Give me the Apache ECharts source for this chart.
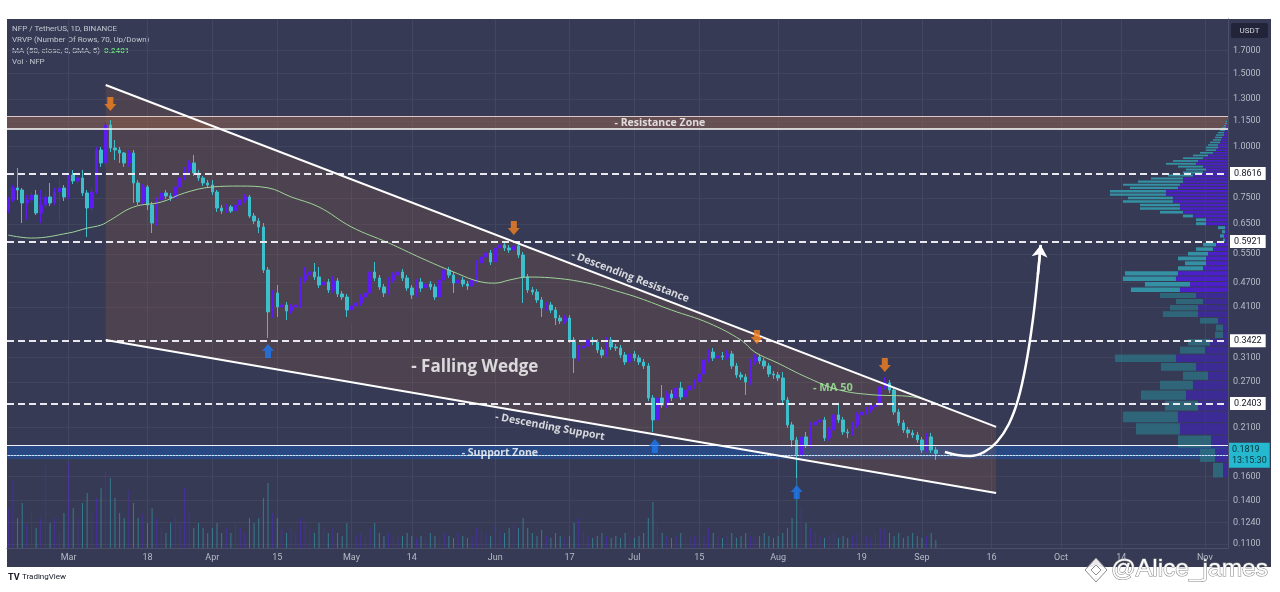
<!DOCTYPE html>
<html><head><meta charset="utf-8">
<script src="https://cdn.jsdelivr.net/npm/echarts@6/dist/echarts.min.js"></script>
<style>
html,body{margin:0;padding:0;background:#ffffff;}
#bg{position:absolute;left:7px;top:19px;width:1264px;height:548px;background:#363a54;}
#c{position:absolute;left:0;top:0;width:1280px;height:592px;}
</style>
</head><body><div id="bg"></div><div id="c"></div>
<script>
// ---------- DATA ----------
const candleStart = '2024-02-17';
const opens = [
0.7023,0.7424,0.7935,0.7847,0.7302,0.7424,0.7632,0.6907,0.7221,0.7548,
0.7302,0.7760,0.7935,0.7548,0.8529,0.8249,0.8388,0.7718,0.7102,0.7760,
0.9798,0.9116,1.1256,0.9908,0.9798,0.9636,0.9116,0.9636,0.8158,0.7342,
0.7979,0.7221,0.6534,0.7424,0.7718,0.7590,0.7506,0.7979,0.8388,0.8769,
0.9116,0.8624,0.8388,0.8158,0.8068,0.7760,0.7102,0.6984,0.7141,0.6984,
0.7221,0.7424,0.7548,0.6793,0.6607,0.6391,0.5034,0.3988,0.4431,0.4100,
0.4145,0.4010,0.4100,0.4145,0.4762,0.4896,0.4978,0.4842,0.4632,0.4709,
0.4505,0.4736,0.4406,0.4333,0.4032,0.4123,0.4192,0.4333,0.4431,0.4978,
0.4816,0.4581,0.4431,0.4762,0.4896,0.4978,0.4816,0.4555,0.4382,0.4709,
0.4555,0.4658,0.4581,0.4333,0.4762,0.5034,0.4896,0.4683,0.4762,0.4658,
0.4606,0.4762,0.5233,0.5411,0.5532,0.5262,0.5688,0.5783,0.5688,0.5625,
0.5751,0.5471,0.4842,0.4505,0.4455,0.4262,0.4077,0.4145,0.4032,0.3857,
0.3793,0.3857,0.3413,0.3089,0.3265,0.3301,0.3413,0.3375,0.3229,0.3141,
0.3413,0.3283,0.3265,0.3141,0.3021,0.3158,0.3089,0.3021,0.2955,0.2474,
0.2190,0.2474,0.2380,0.2529,0.2474,0.2615,0.2488,0.2586,0.2645,0.2704,
0.2827,0.3055,0.3193,0.3089,0.3123,0.3106,0.3158,0.2955,0.2811,0.2780,
0.2704,0.3021,0.3106,0.3038,0.2955,0.2827,0.2811,0.2765,0.2447,0.2130,
0.1960,0.1803,0.1993,0.1906,0.2130,0.2166,0.2190,0.1982,0.2072,0.2252,
0.2190,0.2049,0.2038,0.2130,0.2252,0.2289,0.2315,0.2354,0.2380,0.2630,
0.2689,0.2586,0.2289,0.2154,0.2072,0.2038,0.2015,0.1960,0.1854,0.1993,
0.1854];
const closes = [
0.7424,0.7935,0.7847,0.7302,0.7424,0.7632,0.6907,0.7221,0.7548,0.7302,
0.7760,0.7935,0.7548,0.8529,0.8249,0.8388,0.7718,0.7102,0.7760,0.9798,
0.9116,1.1256,0.9908,0.9798,0.9636,0.9116,0.9636,0.8158,0.7342,0.7979,
0.7221,0.6534,0.7424,0.7718,0.7590,0.7506,0.7979,0.8388,0.8769,0.9116,
0.8624,0.8388,0.8158,0.8068,0.7760,0.7102,0.6984,0.7141,0.6984,0.7221,
0.7424,0.7548,0.6793,0.6607,0.6391,0.5034,0.3988,0.4431,0.4100,0.4145,
0.4010,0.4100,0.4145,0.4762,0.4896,0.4978,0.4842,0.4632,0.4709,0.4505,
0.4736,0.4406,0.4333,0.4032,0.4123,0.4192,0.4333,0.4431,0.4978,0.4816,
0.4581,0.4431,0.4762,0.4896,0.4978,0.4816,0.4555,0.4382,0.4709,0.4555,
0.4658,0.4581,0.4333,0.4762,0.5034,0.4896,0.4683,0.4762,0.4658,0.4606,
0.4762,0.5233,0.5411,0.5532,0.5262,0.5688,0.5783,0.5688,0.5625,0.5751,
0.5471,0.4842,0.4505,0.4455,0.4262,0.4077,0.4145,0.4032,0.3857,0.3793,
0.3857,0.3413,0.3089,0.3265,0.3301,0.3413,0.3375,0.3229,0.3141,0.3413,
0.3283,0.3265,0.3141,0.3021,0.3158,0.3089,0.3021,0.2955,0.2474,0.2190,
0.2474,0.2380,0.2529,0.2474,0.2615,0.2488,0.2586,0.2645,0.2704,0.2827,
0.3055,0.3193,0.3089,0.3123,0.3106,0.3158,0.2955,0.2811,0.2780,0.2704,
0.3021,0.3106,0.3038,0.2955,0.2827,0.2811,0.2765,0.2447,0.2130,0.1960,
0.1803,0.1993,0.1906,0.2130,0.2166,0.2190,0.1982,0.2072,0.2252,0.2190,
0.2049,0.2038,0.2130,0.2252,0.2289,0.2315,0.2354,0.2380,0.2630,0.2689,
0.2586,0.2289,0.2154,0.2072,0.2038,0.2015,0.1960,0.1854,0.1993,0.1854,
0.1819];
const highs = [
0.7548,0.8068,0.8867,0.7935,0.7632,0.7760,0.7847,0.7847,0.7675,0.8158,
0.7935,0.8435,0.8068,0.8624,0.8769,0.8482,0.8769,0.7847,0.7935,0.9963,
0.9963,1.1445,1.1573,1.0357,0.9963,0.9690,0.9798,0.9798,0.8295,0.8113,
0.8068,0.7342,0.7548,0.7847,0.7847,0.7718,0.8113,0.8482,0.8916,0.9269,
0.9530,0.8769,0.8482,0.8295,0.8295,0.7847,0.7221,0.7261,0.7221,0.7342,
0.7548,0.7675,0.7632,0.6907,0.6718,0.6534,0.5118,0.4505,0.4632,0.4215,
0.4215,0.4168,0.4215,0.4842,0.5118,0.5062,0.5233,0.5118,0.4816,0.4789,
0.4869,0.4816,0.4480,0.4406,0.4192,0.4262,0.4406,0.4505,0.5062,0.5262,
0.4896,0.4658,0.4842,0.4978,0.5090,0.5062,0.4896,0.4632,0.4789,0.4816,
0.4736,0.4736,0.4658,0.4842,0.5147,0.5118,0.4978,0.4842,0.4842,0.4736,
0.4842,0.5321,0.5532,0.5625,0.5625,0.5783,0.5880,0.5848,0.5783,0.5848,
0.5816,0.5563,0.4924,0.4581,0.4530,0.4333,0.4215,0.4215,0.4100,0.3922,
0.3922,0.3922,0.3471,0.3320,0.3357,0.3549,0.3471,0.3432,0.3283,0.3471,
0.3471,0.3338,0.3320,0.3193,0.3211,0.3211,0.3141,0.3072,0.3005,0.2515,
0.2515,0.2659,0.2572,0.2586,0.2659,0.2704,0.2630,0.2689,0.2749,0.2874,
0.3106,0.3247,0.3265,0.3193,0.3193,0.3229,0.3211,0.3005,0.2858,0.2827,
0.3072,0.3158,0.3158,0.3089,0.3005,0.2874,0.2858,0.2858,0.2488,0.2166,
0.1993,0.2027,0.2049,0.2166,0.2215,0.2239,0.2227,0.2107,0.2289,0.2407,
0.2227,0.2084,0.2166,0.2289,0.2328,0.2354,0.2393,0.2420,0.2674,0.2780,
0.2734,0.2630,0.2328,0.2190,0.2107,0.2072,0.2049,0.1993,0.2038,0.2038,
0.1885];
const lows = [
0.6907,0.7342,0.7424,0.6534,0.6644,0.7302,0.6831,0.6534,0.7102,0.7181,
0.7221,0.6534,0.7383,0.7465,0.8113,0.8113,0.7590,0.6046,0.6984,0.7675,
0.8916,0.8916,0.9690,0.9269,0.9116,0.8916,0.8916,0.7302,0.7221,0.7221,
0.7023,0.6181,0.6427,0.7302,0.7465,0.7383,0.7424,0.7847,0.8295,0.8624,
0.8482,0.8249,0.8024,0.7935,0.7632,0.6946,0.6869,0.6907,0.6907,0.6869,
0.7141,0.7302,0.6718,0.6498,0.6181,0.4951,0.3451,0.3857,0.3878,0.4032,
0.3814,0.3944,0.3751,0.4077,0.4683,0.4816,0.4762,0.4555,0.4555,0.4431,
0.4431,0.4333,0.4262,0.3878,0.3751,0.4054,0.4123,0.4262,0.4358,0.4736,
0.4505,0.4333,0.4382,0.4683,0.4816,0.4736,0.4480,0.4286,0.4333,0.4455,
0.4455,0.4505,0.4262,0.4286,0.4683,0.4816,0.4431,0.4606,0.4581,0.4505,
0.4530,0.4683,0.5147,0.5321,0.5175,0.5118,0.5594,0.5594,0.5532,0.5563,
0.5381,0.4192,0.4431,0.4382,0.4192,0.3878,0.4010,0.3965,0.3710,0.3730,
0.3730,0.3357,0.2842,0.3038,0.3211,0.3247,0.3320,0.3176,0.3089,0.3106,
0.3229,0.3211,0.3089,0.2971,0.2971,0.3038,0.2971,0.2906,0.2433,0.2049,
0.2154,0.2341,0.2341,0.2433,0.2433,0.2447,0.2447,0.2543,0.2601,0.2659,
0.2780,0.3005,0.3038,0.3038,0.3055,0.3055,0.2906,0.2765,0.2734,0.2515,
0.2659,0.2971,0.2988,0.2906,0.2780,0.2749,0.2719,0.2407,0.2095,0.1885,
0.1587,0.1773,0.1875,0.1875,0.2095,0.2130,0.1949,0.1949,0.2038,0.2154,
0.2015,0.1982,0.2004,0.2095,0.2215,0.2252,0.2277,0.2315,0.2341,0.2586,
0.2543,0.2252,0.2119,0.2038,0.1982,0.1982,0.1928,0.1823,0.1833,0.1823,
0.1754];
const volumes = [
40,68,30,45,25,35,20,30,83,25,30,15,35,
86,40,30,45,55,35,50,60,76,70,50,35,30,
58,45,30,35,25,40,30,20,15,25,30,25,60,35,20,
25,20,15,20,25,15,20,15,25,20,15,30,25,30,50,
65,
35,30,20,15,20,15,30,25,20,15,25,20,15,20,
15,12,25,15,12,15,12,20,25,15,12,15,12,10,12,15,12,10,12,10,15,12,10,15,12,10,15,12,10,12,
20,18,15,12,25,18,15,20,25,20,
30,20,15,12,18,12,10,15,12,10,12,25,30,15,12,10,12,15,12,10,12,10,15,12,10,12,15,
30,46,25,
15,12,10,12,15,12,10,12,15,12,20,15,12,10,12,15,10,12,15,12,10,12,15,12,10,12,15,20,30,
90,
40,25,20,
15,12,10,12,15,10,12,10,12,15,10,12,10,15,20,18,15,12,15,10,12,15,12,10,12,15,8];

// moving average (MA 50)
const maDates = ['2024-02-17','2024-02-22','2024-03-01','2024-03-05','2024-03-08','2024-03-10','2024-03-15','2024-03-21','2024-03-26','2024-04-01','2024-04-07','2024-04-13','2024-04-18','2024-04-24','2024-05-01','2024-05-09','2024-05-16','2024-05-23','2024-05-29','2024-06-01','2024-06-04','2024-06-08','2024-06-13','2024-06-21','2024-06-28','2024-07-02','2024-07-09','2024-07-17','2024-07-24','2024-07-27','2024-08-01','2024-08-07','2024-08-14','2024-08-21','2024-08-30','2024-09-04'];
const maValues = [0.611,0.601,0.618,0.635,0.646,0.664,0.714,0.734,0.772,0.798,0.802,0.794,0.755,0.714,0.639,0.585,0.538,0.498,0.471,0.468,0.476,0.484,0.482,0.468,0.445,0.431,0.403,0.375,0.341,0.319,0.300,0.278,0.259,0.252,0.249,0.2401];

// visible-range volume profile, 70 rows (up / down)
const vpMin = 0.1587, vpMax = 1.1573, vpRows = 70;
const vpUp = [5,13,17,48,50,30,42,35,20,32,52,23,18,5,5,10,30,30,25,32,48,38,52,50,25,22,22,20,15,12,3,4,3,3,22,22,35,45,48,48,55,55,62,62,50,48,45,45,35,25,22,25,32,30,25,20,15,12,10,10,8,7,6,4,4,3,2,2,1,1];
const vpDown = [10,15,33,44,55,33,45,33,25,35,61,25,22,8,7,18,35,28,27,36,49,45,53,53,25,21,28,20,17,13,2,4,3,7,10,10,10,23,40,40,50,45,56,56,48,57,45,32,25,20,20,25,30,25,20,15,13,10,12,10,10,8,7,8,6,5,4,2,2,1];

// horizontal levels
const hLevels = [0.8616, 0.5921, 0.3422, 0.2403];
const resistanceZone = [1.0990, 1.1832];
const supportZone = [0.1764, 0.1896];
const lastPrice = 0.1819, lastTime = '13:15:30';

// wedge lines
const wedgeRes = [['2024-03-09', 1.405], ['2024-09-17', 0.2107]];
const wedgeSup = [['2024-03-09', 0.3413], ['2024-09-17', 0.1460]];

// markers
const orangeArrows = [['2024-03-10', 1.2646], ['2024-06-05', 0.6358], ['2024-07-27 10:00', 0.3471], ['2024-08-24', 0.2972]];
const blueArrows = [['2024-04-13', 0.3211], ['2024-07-05 10:00', 0.1896], ['2024-08-05', 0.1468]];
const curvePts = [['2024-09-05 23:00',0.1833],['2024-09-08 13:00',0.1803],['2024-09-11 08:00',0.1793],['2024-09-14 09:00',0.1833],['2024-09-17 04:00',0.1938],['2024-09-19 18:00',0.2142],['2024-09-21 17:00',0.2447],['2024-09-23 10:00',0.2971],['2024-09-24 22:00',0.3814],['2024-09-26 00:00',0.4896],['2024-09-26 15:00',0.5783]];

// text notes: content + anchor
const noteTexts = ['- Resistance Zone','- Support Zone','- Falling Wedge','- Descending Resistance','- Descending Support','- MA 50'];
const noteAnchors = [['2024-07-06 12:00',1.14],['2024-06-02 00:00',0.1826],['2024-05-27 14:00',0.2939],['2024-06-30 02:00',0.4842],['2024-06-12 19:00',0.2107],['2024-08-12 19:00',0.2615]];

// axis ticks
const priceTicks = [1.7,1.5,1.3,1.15,1.0,0.75,0.65,0.55,0.47,0.41,0.31,0.27,0.21,0.16,0.14,0.124,0.11];
const timeTicks = ['2024-03-01','2024-03-18','2024-04-01','2024-04-15','2024-05-01','2024-05-14','2024-06-01','2024-06-17','2024-07-01','2024-07-15','2024-08-01','2024-08-19','2024-09-01','2024-09-16','2024-10-01','2024-10-14','2024-11-01'];
const timeLabels = ['Mar','18','Apr','15','May','14','Jun','17','Jul','15','Aug','19','Sep','16','Oct','14','Nov'];

// ---------- BUILD ----------
const DAY = 86400000;
const T = s => { const parts = s.split(' '); const [Y,M,D] = parts[0].split('-').map(Number); const [h,m] = (parts[1]||'00:00').split(':').map(Number); return Date.UTC(Y,M-1,D,h,m); };
const t0 = T(candleStart);
const dates = opens.map((_, i) => t0 + i * DAY);
const candleData = opens.map((o, i) => [dates[i], o, closes[i], lows[i], highs[i]]);
const UP = '#5e1cf2', DOWN = '#3fbfcc';
const volData = volumes.map((v, i) => ({ value: [dates[i], v], itemStyle: { color: closes[i] >= opens[i] ? 'rgba(88,40,230,0.5)' : 'rgba(55,175,190,0.55)' } }));
const xMin = T('2024-02-16 17:15'), xMax = T('2024-11-06 00:00');
const tickTimes = timeTicks.map(T);
const labelFor = v => { for (let i = 0; i < tickTimes.length; i++) { if (Math.abs(tickTimes[i] - v) < 3600000) return timeLabels[i]; } return ''; };
const vpStep = (vpMax - vpMin) / vpRows;
const vpData = vpUp.map((u, k) => [k, u, vpDown[k], vpMin + (k + 0.5) * vpStep]);
const FONT = 'Roboto, "Liberation Sans", sans-serif';
const noteStyles = [
  { fontSize: 10.5, rotate: 0, color: '#ffffff' },
  { fontSize: 10.5, rotate: 0, color: '#ffffff' },
  { fontSize: 17, rotate: 0, color: '#ffffff' },
  { fontSize: 10.5, rotate: -21, color: '#ffffff' },
  { fontSize: 10.5, rotate: -10.5, color: '#ffffff' },
  { fontSize: 11, rotate: 0, color: '#a4ee9e' }
];
const noteData = noteTexts.map((txt, i) => ({
  value: [T(noteAnchors[i][0]), noteAnchors[i][1]],
  label: { show: true, position: 'inside', formatter: txt, fontSize: noteStyles[i].fontSize, rotate: noteStyles[i].rotate, color: noteStyles[i].color, fontWeight: 'bold', fontFamily: '"Open Sans", Roboto, sans-serif' }
}));

const levelLine = v => ({
  yAxis: v,
  lineStyle: { type: [7, 4], color: '#e8e8ee', width: 2 },
  label: { show: true, position: 'end', distance: 2, formatter: v.toFixed(4), backgroundColor: '#ffffff', color: '#131722', fontSize: 9, padding: [2, 4, 2, 4], fontFamily: FONT }
});

const chart = echarts.init(document.getElementById('c'), null, { renderer: 'canvas' });
chart.setOption({
  animation: false,
  backgroundColor: 'transparent',
  grid: [
    { left: 7, right: 52, top: 19, bottom: 44 },
    { left: 7, right: 52, bottom: 44, height: 100 }
  ],
  xAxis: [
    { type: 'value', gridIndex: 0, min: xMin, max: xMax,
      axisLine: { show: true, lineStyle: { color: '#4b4f68' } },
      axisTick: { show: false, customValues: tickTimes },
      axisLabel: { customValues: tickTimes, formatter: v => labelFor(v), color: '#b8bbc6', fontSize: 9, margin: 5, fontFamily: FONT },
      splitLine: { show: true, lineStyle: { color: '#42465f', width: 1 } } },
    { type: 'value', gridIndex: 1, min: xMin, max: xMax, show: false },
    { type: 'value', gridIndex: 0, min: 0, max: 1220, inverse: true, show: false }
  ],
  yAxis: [
    { type: 'log', logBase: 10, gridIndex: 0, position: 'right', min: 0.1076, max: 2.027,
      axisLine: { show: true, lineStyle: { color: '#4b4f68' } },
      axisTick: { show: false, customValues: priceTicks },
      axisLabel: { customValues: priceTicks, formatter: v => (+v).toFixed(4), color: '#b8bbc6', fontSize: 9, margin: 5, fontFamily: FONT },
      splitLine: { show: true, lineStyle: { color: '#40445d', width: 1 } } },
    { type: 'value', gridIndex: 1, min: 0, max: 100, show: false }
  ],
  series: [
    { // wedge fill
      type: 'custom', xAxisIndex: 0, yAxisIndex: 0, z: 1, silent: true,
      data: [[T(wedgeRes[0][0]), wedgeRes[0][1]]],
      renderItem: (params, api) => {
        const pts = [wedgeRes[0], wedgeRes[1], wedgeSup[1], wedgeSup[0]].map(p => api.coord([T(p[0]), p[1]]));
        return { type: 'polygon', shape: { points: pts }, style: { fill: 'rgba(160,95,62,0.22)' } };
      }
    },
    { // volume profile
      type: 'custom', xAxisIndex: 2, yAxisIndex: 0, z: 2, silent: true, clip: false,
      encode: { x: 1, y: 3 },
      data: vpData,
      renderItem: (params, api) => {
        const k = api.value(0), up = api.value(1), dn = api.value(2);
        const pLo = vpMin + k * vpStep, pHi = pLo + vpStep;
        const a = api.coord([0, pHi]), b = api.coord([0, pLo]);
        const xUp = api.coord([up, pHi])[0], xAll = api.coord([up + dn, pHi])[0];
        const h = Math.max(1, b[1] - a[1] - 1);
        const bright = k >= 20;
        return { type: 'group', children: [
          { type: 'rect', shape: { x: xAll, y: a[1] + 0.5, width: xUp - xAll, height: h }, style: { fill: bright ? 'rgba(52,160,178,0.85)' : 'rgba(45,112,130,0.8)' } },
          { type: 'rect', shape: { x: xUp, y: a[1] + 0.5, width: a[0] - xUp, height: h }, style: { fill: bright ? 'rgba(78,30,214,0.9)' : 'rgba(62,40,165,0.8)' } }
        ] };
      }
    },
    { // volume bars
      type: 'bar', xAxisIndex: 1, yAxisIndex: 1, barWidth: 1, z: 2, silent: true, data: volData
    },
    { // candles
      type: 'candlestick', xAxisIndex: 0, yAxisIndex: 0, z: 3, barWidth: 3, silent: true,
      data: candleData,
      itemStyle: { color: UP, color0: DOWN, borderColor: UP, borderColor0: DOWN, borderWidth: 1 },
      markArea: { silent: true, data: [
        [{ yAxis: resistanceZone[0], itemStyle: { color: 'rgba(150,100,80,0.5)' } }, { yAxis: resistanceZone[1] }],
        [{ yAxis: supportZone[0], itemStyle: { color: 'rgba(25,90,190,0.45)' } }, { yAxis: supportZone[1] }]
      ] },
      markLine: { silent: true, symbol: ['none', 'none'], data: [
        ...hLevels.map(levelLine),
        { yAxis: resistanceZone[1], lineStyle: { type: 'solid', color: 'rgba(236,214,210,0.9)', width: 1.2 }, label: { show: false } },
        { yAxis: resistanceZone[0], lineStyle: { type: 'solid', color: '#ffffff', width: 1.5 }, label: { show: false } },
        { yAxis: supportZone[1], lineStyle: { type: 'solid', color: '#f0f0ff', width: 1.2 }, label: { show: false } },
        { yAxis: supportZone[0], lineStyle: { type: 'solid', color: '#d8dcf0', width: 1.2 }, label: { show: false } },
        { yAxis: lastPrice, lineStyle: { type: [1, 2], color: '#5fb4e4', width: 1 },
          label: { show: true, position: 'end', distance: 1, formatter: lastPrice.toFixed(4) + '\n' + lastTime, backgroundColor: '#25b9cf', color: '#0d2f38', fontSize: 9, lineHeight: 11, padding: [2, 3, 1, 3], fontFamily: FONT } }
      ] }
    },
    { // MA 50
      type: 'line', xAxisIndex: 0, yAxisIndex: 0, z: 4, silent: true, showSymbol: false, smooth: 0.4,
      data: maDates.map((d, i) => [T(d), maValues[i]]),
      lineStyle: { color: '#9fd49a', width: 1 }
    },
    { type: 'line', xAxisIndex: 0, yAxisIndex: 0, z: 5, silent: true, showSymbol: false,
      data: wedgeRes.map(p => [T(p[0]), p[1]]), lineStyle: { color: '#ffffff', width: 2 } },
    { type: 'line', xAxisIndex: 0, yAxisIndex: 0, z: 5, silent: true, showSymbol: false,
      data: wedgeSup.map(p => [T(p[0]), p[1]]), lineStyle: { color: '#ffffff', width: 2 } },
    { // curved target arrow
      type: 'line', xAxisIndex: 0, yAxisIndex: 0, z: 6, silent: true, showSymbol: false, smooth: 0.4,
      data: curvePts.map(p => [T(p[0]), p[1]]), lineStyle: { color: '#ffffff', width: 2.5 } },
    { type: 'lines', coordinateSystem: 'cartesian2d', xAxisIndex: 0, yAxisIndex: 0, z: 6, silent: true,
      symbol: ['none', 'arrow'], symbolSize: 12,
      data: [{ coords: curvePts.slice(-2).map(p => [T(p[0]), p[1]]) }],
      lineStyle: { color: '#ffffff', width: 2.5, opacity: 1 } },
    { type: 'scatter', xAxisIndex: 0, yAxisIndex: 0, z: 6, silent: true,
      symbol: 'path://M3,0L9,0L9,7L12,7L6,14L0,7L3,7Z', symbolSize: [12, 14],
      itemStyle: { color: '#f7821f' }, data: orangeArrows.map(p => [T(p[0]), p[1]]) },
    { type: 'scatter', xAxisIndex: 0, yAxisIndex: 0, z: 6, silent: true,
      symbol: 'path://M6,0L12,7L9,7L9,14L3,14L3,7L0,7Z', symbolSize: [12, 14],
      itemStyle: { color: '#1e78f0' }, data: blueArrows.map(p => [T(p[0]), p[1]]) },
    { type: 'scatter', xAxisIndex: 0, yAxisIndex: 0, z: 7, silent: true,
      symbolSize: 0.1, itemStyle: { color: 'transparent' }, data: noteData }
  ],
  graphic: [
    { type: 'text', x: 12, y: 25, style: { text: 'NFP / TetherUS, 1D, BINANCE', fill: '#c3c6d0', fontSize: 8, fontFamily: FONT } },
    { type: 'text', x: 12, y: 36, style: { text: 'VRVP (Number Of Rows, 70, Up/Down)', fill: '#c3c6d0', fontSize: 8, fontFamily: FONT } },
    { type: 'text', x: 12, y: 47, style: { text: 'MA (50, close, 0, SMA, 5)  {g|0.2401}', fill: '#c3c6d0', fontSize: 8, fontFamily: FONT, rich: { g: { fill: '#66d977', fontSize: 8, fontWeight: 'bold', fontFamily: FONT } } } },
    { type: 'text', x: 12, y: 58, style: { text: 'Vol · NFP', fill: '#c3c6d0', fontSize: 8, fontFamily: FONT } },
    { type: 'rect', shape: { x: 1231, y: 23, width: 37, height: 15, r: 2 }, style: { fill: '#22243a' } },
    { type: 'text', x: 1249.5, y: 30.5, style: { text: 'USDT', fill: '#d6d8e0', fontSize: 8, fontFamily: FONT, align: 'center', verticalAlign: 'middle' } },
    { type: 'text', x: 8, y: 573, style: { text: 'TV', fill: '#131722', fontSize: 9, fontWeight: 'bold', fontFamily: FONT } },
    { type: 'text', x: 22, y: 573, style: { text: 'TradingView', fill: '#131722', fontSize: 8, fontFamily: FONT } },
    { type: 'polygon', shape: { points: [[1096, 558], [1107, 570], [1096, 582], [1085, 570]] }, style: { fill: 'rgba(255,255,255,0.9)', stroke: '#8d8d8d', lineWidth: 1 } },
    { type: 'polygon', shape: { points: [[1096, 565], [1101, 570], [1096, 575], [1091, 570]] }, style: { fill: '#ffffff', stroke: '#8d8d8d', lineWidth: 1 } },
    { type: 'text', x: 1111, y: 557, style: { text: '@Alice_james', fill: '#ffffff', stroke: '#8a8a8a', lineWidth: 1.1, fontSize: 24.5, fontFamily: '"Liberation Sans", Arial, sans-serif' } }
  ]
});
</script></body></html>
